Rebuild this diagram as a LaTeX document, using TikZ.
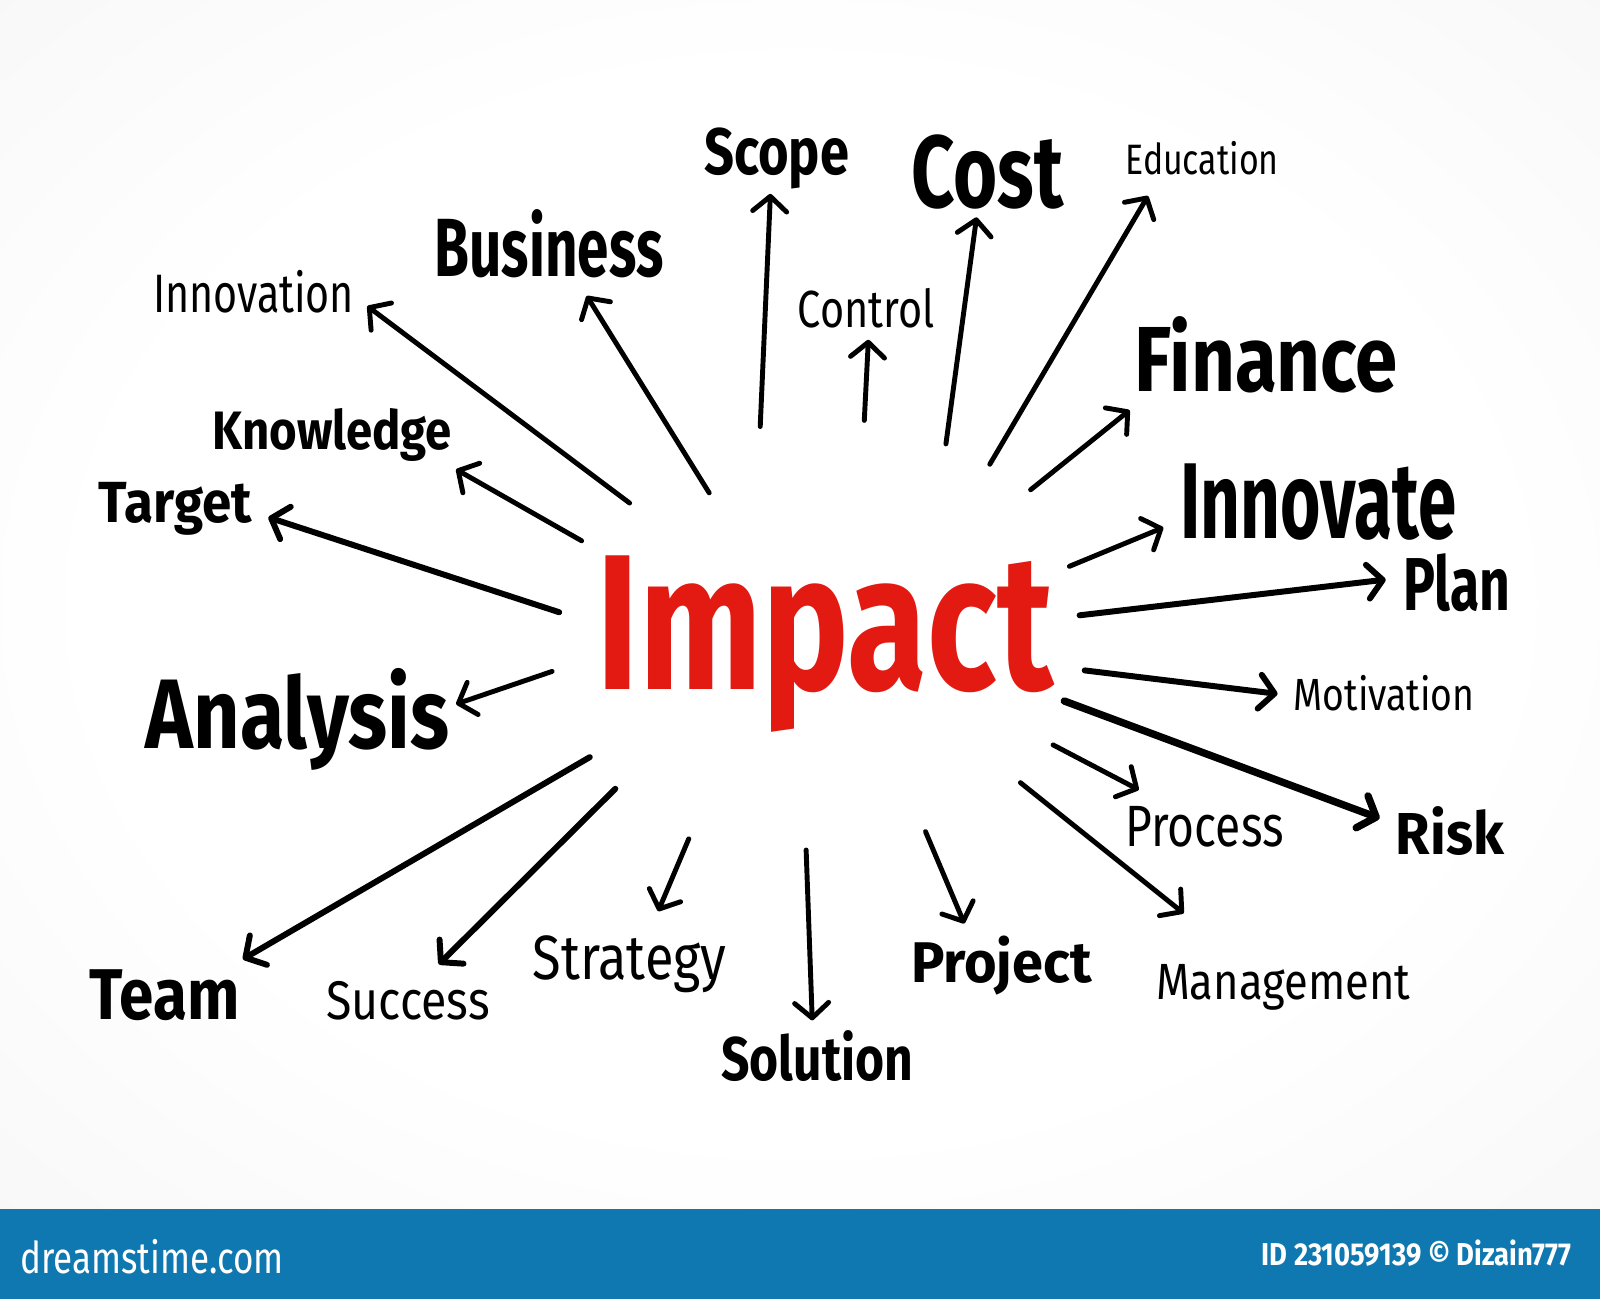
\documentclass[tikz,border=0pt]{standalone}
\usepackage{fontspec}
\setmainfont{Fira Sans}
\usetikzlibrary{arrows.meta}
\newlength\ux
\setlength\ux{0.010204cm}
\newcommand{\hw}[3]{\resizebox*{#1\ux}{#2\ux}{#3}}
\definecolor{bgedge}{RGB}{230,230,232}
\definecolor{barblue}{RGB}{16,120,176}
\definecolor{impactred}{RGB}{226,26,18}
\pgfdeclareradialshading{bgshade}{\pgfpoint{0bp}{0bp}}{color(0bp)=(white); color(22bp)=(white); color(72bp)=(bgedge)}
\tikzset{
  lbl/.style={inner sep=0pt, outer sep=0pt, font=\bfseries, text=black},
  arr/.style={line width=1.4pt, line cap=round, -{Straight Barb[length=1.5mm,width=3.4mm,line cap=round,line join=round]}},
  thickarr/.style={arr, line width=1.7pt},
  heavyarr/.style={arr, line width=2.1pt}
}
\begin{document}
\begin{tikzpicture}[x=0.010204cm, y=-0.010204cm]
\useasboundingbox (0,0) rectangle (1568,1273);
\shade[shading=bgshade] (0,0) rectangle (1568,1185);
\fill[barblue] (0,1185) rectangle (1568,1273);
\node[lbl, text=white, font=\normalfont] (dt) at (149,1232) {\hw{258}{34}{dreamstime.com}};
\node[lbl, text=white] (idt) at (1388,1228) {\hw{303}{26}{ID 231059139 © Dizain777}};

% centre
\node[lbl, text=impactred] (impact) at (808.5,631.5) {\hw{447}{173}{Impact}};

% labels
\node[lbl] (scope) at (761,155) {\hw{142}{60}{Scope}};
\node[lbl] (cost) at (967.5,168.5) {\hw{149}{73}{Cost}};
\node[lbl, font=\normalfont] (education) at (1178,155.5) {\hw{150}{33}{Education}};
\node[lbl] (business) at (538,238.5) {\hw{224}{67}{Business}};
\node[lbl, font=\normalfont] (innovation) at (248.5,286) {\hw{197}{42}{Innovation}};
\node[lbl, font=\normalfont] (control) at (849,302.5) {\hw{134}{39}{Control}};
\node[lbl] (finance) at (1241,347.5) {\hw{258}{75}{Finance}};
\node[lbl] (knowledge) at (325.5,426) {\hw{235}{52}{Knowledge}};
\node[lbl] (target) at (172,499) {\hw{150}{52}{Target}};
\node[lbl] (innovate) at (1292,492.5) {\hw{270}{75}{Innovate}};
\node[lbl] (plan) at (1427.5,571.5) {\hw{105}{57}{Plan}};
\node[lbl] (analysis) at (291.5,705) {\hw{297}{100}{Analysis}};
\node[lbl, font=\normalfont] (motivation) at (1356.5,679.5) {\hw{177}{35}{Motivation}};
\node[lbl, font=\normalfont] (process) at (1180.5,810) {\hw{155}{40}{Process}};
\node[lbl] (risk) at (1421,814) {\hw{106}{48}{Risk}};
\node[lbl, font=\normalfont] (management) at (1257.5,967.5) {\hw{249}{45}{Management}};
\node[lbl] (team) at (161.5,975) {\hw{147}{50}{Team}};
\node[lbl, font=\normalfont] (success) at (400,981) {\hw{160}{38}{Success}};
\node[lbl, font=\normalfont] (strategy) at (617,945) {\hw{190}{56}{Strategy}};
\node[lbl] (project) at (981.5,946) {\hw{177}{58}{Project}};
\node[lbl] (solution) at (801,1035) {\hw{188}{50}{Solution}};

% arrow end points
\coordinate (tInnovation) at (617,493);  \coordinate (hInnovation) at (360,300);
\coordinate (tBusiness) at (695,483);    \coordinate (hBusiness) at (575,290);
\coordinate (tScope) at (745,418);       \coordinate (hScope) at (755,190);
\coordinate (tControl) at (847,412);     \coordinate (hControl) at (851,333);
\coordinate (tCost) at (927,435);        \coordinate (hCost) at (957,213);
\coordinate (tEducation) at (970,455);   \coordinate (hEducation) at (1125,192);
\coordinate (tFinance) at (1010,480);    \coordinate (hFinance) at (1107,402);
\coordinate (tKnowledge) at (570,530);   \coordinate (hKnowledge) at (447,460);
\coordinate (tTarget) at (548,600);      \coordinate (hTarget) at (263,507);
\coordinate (tInnovate) at (1048,555);   \coordinate (hInnovate) at (1140,517);
\coordinate (tPlan) at (1058,603);       \coordinate (hPlan) at (1358,568);
\coordinate (tAnalysis) at (541,658);    \coordinate (hAnalysis) at (447,690);
\coordinate (tMotivation) at (1063,657); \coordinate (hMotivation) at (1252,680);
\coordinate (tRisk) at (1043,687);       \coordinate (hRisk) at (1352,802);
\coordinate (tProcess) at (1032,730);    \coordinate (hProcess) at (1116,774);
\coordinate (tManagement) at (1000,767); \coordinate (hManagement) at (1160,895);
\coordinate (tTeam) at (578,742);        \coordinate (hTeam) at (238,940);
\coordinate (tSuccess) at (603,773);     \coordinate (hSuccess) at (430,945);
\coordinate (tStrategy) at (675,822);    \coordinate (hStrategy) at (645,893);
\coordinate (tSolution) at (790,833);    \coordinate (hSolution) at (796,1000);
\coordinate (tProject) at (907,815);     \coordinate (hProject) at (945,905);

\foreach \n in {Innovation,Business,Scope,Control,Cost,Education,Finance,Knowledge,Innovate,Analysis,Process,Management,Strategy,Solution,Project}
  \draw[arr] (t\n) -- (h\n);
\foreach \n in {Target,Plan,Motivation,Team,Success}
  \draw[thickarr] (t\n) -- (h\n);
\draw[heavyarr] (tRisk) -- (hRisk);
\end{tikzpicture}
\end{document}
